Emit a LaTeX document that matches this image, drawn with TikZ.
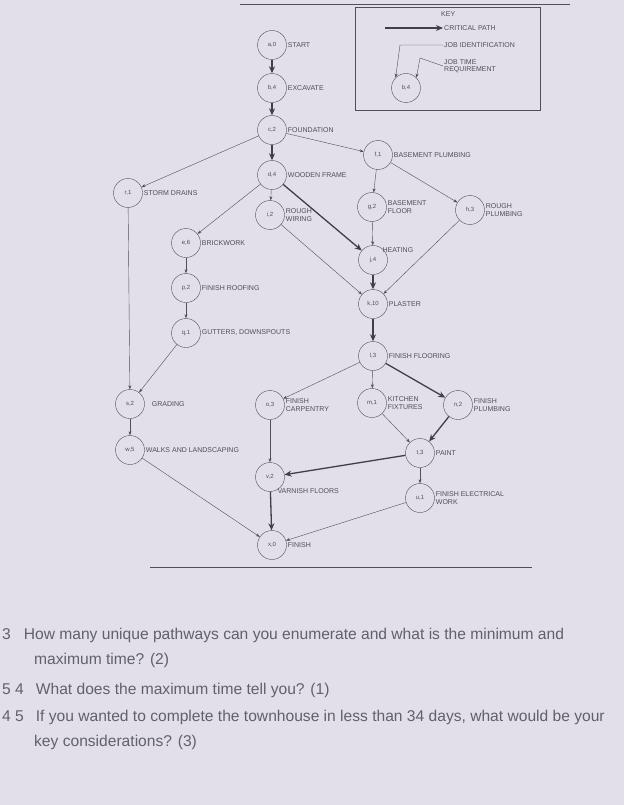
\documentclass[tikz,border=0pt]{standalone}
\usepackage{fontspec}
\setmainfont{Liberation Sans}
\usetikzlibrary{arrows.meta,calc}
\definecolor{bg}{RGB}{226,223,233}
\definecolor{ink}{RGB}{80,78,90}
\begin{document}
\begin{tikzpicture}[x=1pt,y=-1pt,
  job/.style={circle,draw=ink,thin,minimum size=29pt,inner sep=0pt,font=\fontsize{6}{7}\selectfont,text=ink},
  lab/.style={anchor=west,font=\fontsize{7}{7.5}\selectfont,text=ink,align=left,inner sep=1pt},
  thinarr/.style={draw=ink,thin,-{Stealth[length=4pt,width=3pt]}},
  crit/.style={draw=ink!80!black,line width=1.3pt,-{Stealth[length=7pt,width=6pt]}},
  q/.style={anchor=west,font=\fontsize{15.6}{25}\selectfont,text=ink!90,align=left,inner sep=0pt}]
\fill[bg] (0,0) rectangle (624,805);
\useasboundingbox (0,0) rectangle (624,805);
\draw[ink,thin] (240,4) -- (570,4);
% key
\draw[ink,thin] (355,7) rectangle (540,110);
\node[lab] (kk) at (440,14) {KEY};
\node[lab] (kcp) at (443,28) {CRITICAL PATH};
\node[lab] (kji) at (443,45) {JOB IDENTIFICATION};
\node[lab] (kjt) at (443,66) {JOB TIME\\REQUIREMENT};
\coordinate (ka) at (385,28);
\draw[crit] (ka) -- (kcp.west);
\node[job] (kc) at (406,88) {b,4};
\coordinate (k1) at (400,45);
\coordinate (k2) at (420,58);
\draw[thinarr] (kji.west) -- (k1) -- (kc.north west);
\draw[thinarr] (kjt.west) -- (k2) -- (kc.north east);
% nodes
\node[job] (a) at (272,45) {a,0}; \node[lab] at (a.east) {START};
\node[job] (b) at (272,88) {b,4}; \node[lab] at (b.east) {EXCAVATE};
\node[job] (c) at (272,130) {c,2}; \node[lab] at (c.east) {FOUNDATION};
\node[job] (d) at (272,175) {d,4}; \node[lab] at (d.east) {WOODEN FRAME};
\node[job] (r) at (128,193) {r,1}; \node[lab] at (r.east) {STORM DRAINS};
\node[job] (f) at (378,155) {f,1}; \node[lab] at (f.east) {BASEMENT PLUMBING};
\node[job] (g) at (372,207) {g,2}; \node[lab] at (g.east) {BASEMENT\\FLOOR};
\node[job] (h) at (470,210) {h,3}; \node[lab] at (h.east) {ROUGH\\PLUMBING};
\node[job] (i) at (270,215) {i,2}; \node[lab] at (i.east) {ROUGH\\WIRING};
\node[job] (j) at (373,260) {j,4}; \node[lab,anchor=west] at ($(j.north east)+(-2,0)$) {HEATING};
\node[job] (e) at (186,243) {e,6}; \node[lab] at (e.east) {BRICKWORK};
\node[job] (p) at (186,288) {p,2}; \node[lab] at (p.east) {FINISH ROOFING};
\node[job] (qq) at (186,333) {q,1}; \node[lab] at (qq.east) {GUTTERS, DOWNSPOUTS};
\node[job] (k) at (373,304) {k,10}; \node[lab] at (k.east) {PLASTER};
\node[job] (l) at (373,356) {l,3}; \node[lab] at (l.east) {FINISH FLOORING};
\node[job] (s) at (130,404) {s,2}; \node[lab] at ($(s.east)+(6,0)$) {GRADING};
\node[job] (o) at (270,405) {o,3}; \node[lab] at (o.east) {FINISH\\CARPENTRY};
\node[job] (m) at (372,403) {m,1}; \node[lab] at (m.east) {KITCHEN\\FIXTURES};
\node[job] (n) at (458,405) {n,2}; \node[lab] at (n.east) {FINISH\\PLUMBING};
\node[job] (w) at (130,450) {w,5}; \node[lab] at (w.east) {WALKS AND LANDSCAPING};
\node[job] (t) at (420,453) {t,3}; \node[lab] at (t.east) {PAINT};
\node[job] (v) at (270,477) {v,2}; \node[lab] at ($(v.south east)+(-4,4)$) {VARNISH FLOORS};
\node[job] (u) at (420,498) {u,1}; \node[lab] at (u.east) {FINISH ELECTRICAL\\WORK};
\node[job] (x) at (272,545) {x,0}; \node[lab] at (x.east) {FINISH};
% critical
\foreach \s/\t in {a/b,b/c,c/d,d/j,j/k,k/l,l/n,n/t,t/v,v/x} \draw[crit] (\s) -- (\t);
% others
\foreach \s/\t in {c/r,c/f,d/e,d/i,f/g,f/h,g/j,i/k,h/k,e/p,p/qq,qq/s,r/s,s/w,w/x,l/o,l/m,o/v,m/t,t/u,u/x} \draw[thinarr] (\s) -- (\t);
\draw[ink] (150,567) -- (532,567);
% questions
\node[q] (q1) at (2,648) {3\hspace{13pt}How many unique pathways can you enumerate and what is the minimum and\\\hspace{32pt}maximum time? (2)};
\node[q] (q2) at (2,690) {5 4\hspace{12pt}What does the maximum time tell you? (1)};
\node[q] (q3) at (2,730) {4 5\hspace{12pt}If you wanted to complete the townhouse in less than 34 days, what would be your\\\hspace{32pt}key considerations? (3)};
\end{tikzpicture}
\end{document}
